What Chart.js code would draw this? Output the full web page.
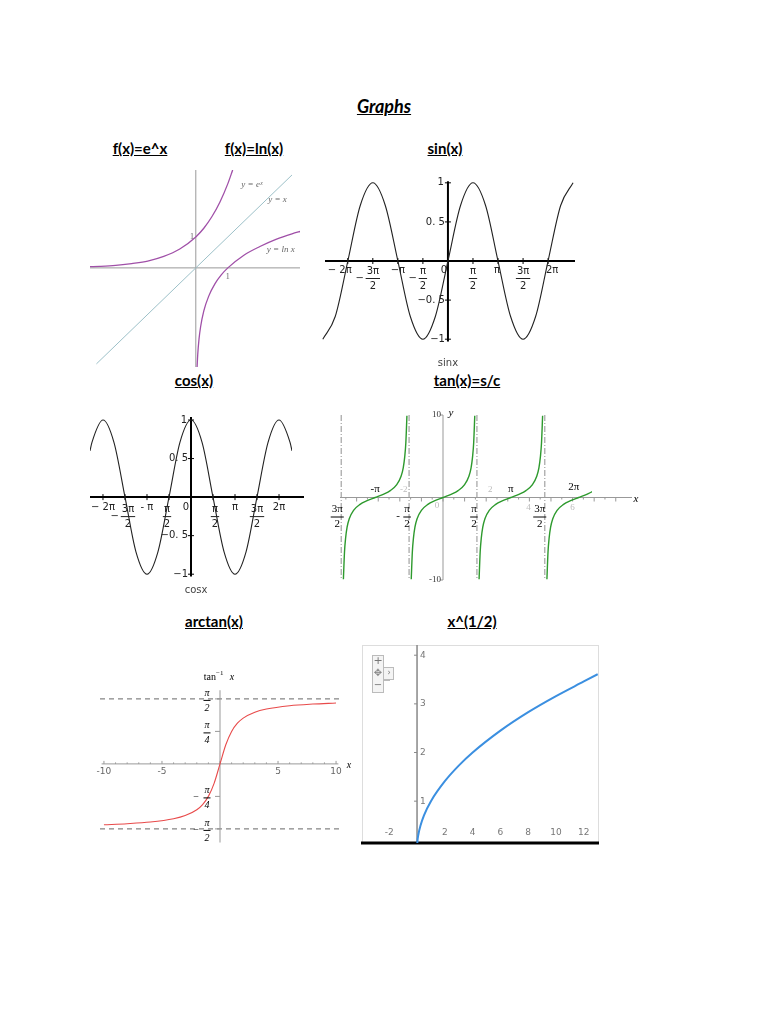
<!DOCTYPE html>
<html><head><meta charset="utf-8">
<script src="https://cdn.jsdelivr.net/npm/chart.js@4"></script>
<style>
body{margin:0;width:768px;height:1024px;background:#fff;position:relative;overflow:hidden;font-family:Lato,"Open Sans",sans-serif}
.h{position:absolute;font-weight:bold;font-size:15px;text-decoration:underline;transform:translate(-50%,-50%);white-space:nowrap;color:#000}
canvas{position:absolute}
</style></head><body>
<div class="h" style="left:384px;top:106px;font-size:18px;font-style:italic">Graphs</div>
<div class="h" style="left:140px;top:148px">f(x)=e^x</div>
<div class="h" style="left:254px;top:148px">f(x)=ln(x)</div>
<div class="h" style="left:445px;top:148px">sin(x)</div>
<div class="h" style="left:194px;top:380px">cos(x)</div>
<div class="h" style="left:467px;top:380px">tan(x)=s/c</div>
<div class="h" style="left:214px;top:621px">arctan(x)</div>
<div class="h" style="left:472px;top:621px">x^(1/2)</div>
<canvas id="c1"></canvas><canvas id="c2"></canvas><canvas id="c3"></canvas>
<canvas id="c4"></canvas><canvas id="c5"></canvas><canvas id="c6"></canvas>
<script>
// ---- data ----
const expX=[-3.3,-3,-2.5,-2,-1.5,-1,-0.5,0,0.25,0.5,0.75,1,1.15];
const expY=[0.04,0.05,0.08,0.14,0.22,0.37,0.61,1,1.28,1.65,2.12,2.72,3.16];
const lnX=[0.04,0.06,0.1,0.15,0.25,0.4,0.6,0.8,1,1.5,2,2.5,3,3.3];
const lnY=[-3.2,-2.8,-2.3,-1.9,-1.39,-0.92,-0.51,-0.22,0,0.41,0.69,0.92,1.1,1.19];
const idX=[-3.1,3.0];
const idY=[-3.1,3.0];
const sinX=[-7.85,-7.07,-6.28,-5.50,-4.71,-3.93,-3.14,-2.36,-1.57,-0.79,0,0.79,1.57,2.36,3.14,3.93,4.71,5.50,6.28,7.07,7.85];
const sinY=[-1,-0.71,0,0.71,1,0.71,0,-0.71,-1,-0.71,0,0.71,1,0.71,0,-0.71,-1,-0.71,0,0.71,1];
const cosX=[-7.21,-7.07,-6.28,-5.50,-4.71,-3.93,-3.14,-2.36,-1.57,-0.79,0,0.79,1.57,2.36,3.14,3.93,4.71,5.50,6.28,7.07,7.21];
const cosY=[0.60,0.71,1,0.71,0,-0.71,-1,-0.71,0,0.71,1,0.71,0,-0.71,-1,-0.71,0,0.71,1,0.71,0.60];
const tanCenters=[-3.1416,0,3.1416,6.2832];
const tanOffsets=[-1.471,-1.42,-1.37,-1.3,-1.2,-1.0,-0.7,-0.4,0,0.4,0.7,1.0,1.2,1.3,1.37,1.42,1.471];
const tanValues=[-9.9,-6.6,-4.96,-3.6,-2.57,-1.56,-0.84,-0.42,0,0.42,0.84,1.56,2.57,3.6,4.96,6.6,9.9];
const atanX=[-10,-8,-6,-4,-3,-2,-1.5,-1,-0.5,0,0.5,1,1.5,2,3,4,6,8,10];
const atanY=[-1.471,-1.446,-1.406,-1.326,-1.249,-1.107,-0.983,-0.785,-0.464,0,0.464,0.785,0.983,1.107,1.249,1.326,1.406,1.446,1.471];
const sqrtX=[0,0.02,0.1,0.25,0.5,1,2,3,4,6,8,10,12,13];
const sqrtY=[0,0.14,0.32,0.5,0.71,1,1.41,1.73,2,2.45,2.83,3.16,3.46,3.61];
const PI=Math.PI;

function pts(xs,ys){return xs.map((x,i)=>({x:x,y:ys[i]}));}
function line(data,color,w,extra){return Object.assign({data:data,borderColor:color,borderWidth:w||1,pointRadius:0,fill:false,cubicInterpolationMode:'monotone'},extra||{});}

function make(id,canvasR,plotR,xr,yr,datasets,draw,under){
  const c=document.getElementById(id);
  c.style.left=canvasR[0]+'px';c.style.top=canvasR[1]+'px';
  const W=canvasR[2]-canvasR[0],H=canvasR[3]-canvasR[1];
  c.width=W;c.height=H;c.style.width=W+'px';c.style.height=H+'px';
  new Chart(c,{type:'line',data:{datasets:datasets},
    options:{responsive:false,animation:false,devicePixelRatio:1,
      layout:{padding:{left:plotR[0]-canvasR[0],top:plotR[1]-canvasR[1],right:canvasR[2]-plotR[2],bottom:canvasR[3]-plotR[3]}},
      plugins:{legend:{display:false},tooltip:{enabled:false}},
      scales:{x:{type:'linear',display:false,min:xr[0],max:xr[1]},y:{type:'linear',display:false,min:yr[0],max:yr[1]}}},
    plugins:[{id:'deco',
      beforeDatasetsDraw(ch){if(under){const ctx=ch.ctx;ctx.save();under(ctx,v=>ch.scales.x.getPixelForValue(v),v=>ch.scales.y.getPixelForValue(v),ch);ctx.restore();}},
      afterDatasetsDraw(ch){if(draw){const ctx=ch.ctx;ctx.save();draw(ctx,v=>ch.scales.x.getPixelForValue(v),v=>ch.scales.y.getPixelForValue(v),ch);ctx.restore();}}}]
  });
}
function txt(ctx,s,x,y,font,color,align){ctx.font=font;ctx.fillStyle=color||'#000';ctx.textAlign=align||'center';ctx.textBaseline='middle';ctx.fillText(s,x,y);}
function frac(ctx,num,den,x,y,font,color,minus){
  ctx.font=font;const w=Math.max(ctx.measureText(num).width,ctx.measureText(den).width)+2;
  txt(ctx,num,x,y-7,font,color);txt(ctx,den,x,y+8,font,color);
  ctx.strokeStyle=color||'#000';ctx.lineWidth=1;ctx.beginPath();ctx.moveTo(x-w/2,y+0.5);ctx.lineTo(x+w/2,y+0.5);ctx.stroke();
  if(minus){txt(ctx,'−',x-w/2-6,y,font,color);}
}
function hline(ctx,x1,x2,y,c,w){ctx.strokeStyle=c;ctx.lineWidth=w;ctx.beginPath();ctx.moveTo(x1,y);ctx.lineTo(x2,y);ctx.stroke();}
function vline(ctx,x,y1,y2,c,w){ctx.strokeStyle=c;ctx.lineWidth=w;ctx.beginPath();ctx.moveTo(x,y1);ctx.lineTo(x,y2);ctx.stroke();}

// Panel 1: exp / ln
make('c1',[85,165,305,372],[90,170,300,367],[-3.3,3.25],[-3.2,3.16],
 [line(pts(idX,idY),'#9cc0c8',1,{cubicInterpolationMode:'default',tension:0}),
  line(pts(expX,expY),'#a050a8',1.3),line(pts(lnX,lnY),'#a050a8',1.3)],
 (ctx,X,Y)=>{
  const f='italic 9px "Liberation Serif"';
  txt(ctx,'y = eˣ',X(1.75),Y(2.7),f,'#666');
  txt(ctx,'y = x',X(2.55),Y(2.2),f,'#666');
  txt(ctx,'y = ln x',X(2.65),Y(0.58),f,'#666');
  txt(ctx,'1',X(-0.12),Y(1),'8px "Liberation Serif"','#666');
  txt(ctx,'1',X(1.0),Y(-0.3),'8px "Liberation Serif"','#666');
 },
 (ctx,X,Y)=>{hline(ctx,X(-3.3),X(3.25),Y(0),'#999',1);vline(ctx,X(0),Y(3.16),Y(-3.2),'#999',1);});

// Panel 2: sin
make('c2',[310,168,600,375],[322,175,575,365],[-7.9,7.97],[-1.33,1.1],
 [line(pts(sinX,sinY),'#222',1.1)],
 (ctx,X,Y)=>{
  const f='10px "DejaVu Sans"';
  txt(ctx,'1',X(0)-4,Y(1),f,'#222','right');
  txt(ctx,'0. 5',X(0)-3,Y(0.5),f,'#222','right');
  txt(ctx,'−0. 5',X(0)-3,Y(-0.5),f,'#222','right');
  txt(ctx,'−1',X(0)-3,Y(-1),f,'#222','right');
  const ly=Y(0)+9;
  txt(ctx,'− 2π',X(-2*PI)-8,ly,f,'#222');
  txt(ctx,'−π',X(-PI),ly,f,'#222');
  txt(ctx,'0',X(0)-4,ly,f,'#222');
  txt(ctx,'π',X(PI)-1,ly,f,'#222');
  txt(ctx,'2π',X(2*PI)+4,ly,f,'#222');
  frac(ctx,'3π','2',X(-1.5*PI),Y(0)+17,f,'#222',true);
  frac(ctx,'π','2',X(-0.5*PI),Y(0)+17,f,'#222',true);
  frac(ctx,'π','2',X(0.5*PI),Y(0)+17,f,'#222');
  frac(ctx,'3π','2',X(1.5*PI),Y(0)+17,f,'#222');
  txt(ctx,'sinx',X(0),Y(-1.33)-2,'10px "DejaVu Sans"','#444');
 },
 (ctx,X,Y)=>{hline(ctx,X(-7.9)+3,X(7.97),Y(0),'#000',2);vline(ctx,X(0),Y(1.02),Y(-1.03),'#000',2);
  for(const v of [-2,-1.5,-1,-0.5,0.5,1,1.5,2]){vline(ctx,X(v*PI),Y(0)-3,Y(0)+3,'#000',1);}
  for(const v of [-1,-0.5,0.5,1]){hline(ctx,X(0)-3,X(0)+3,Y(v),'#000',1);}});

// Panel 3: cos
make('c3',[80,405,320,600],[90,410,292,595],[-7.21,7.21],[-1.27,1.13],
 [line(pts(cosX,cosY),'#222',1.1)],
 (ctx,X,Y)=>{
  const f='10px "DejaVu Sans"';
  txt(ctx,'1',X(0)-4,Y(1),f,'#222','right');
  txt(ctx,'0. 5',X(0)-3,Y(0.5),f,'#222','right');
  txt(ctx,'−0. 5',X(0)-3,Y(-0.5),f,'#222','right');
  txt(ctx,'−1',X(0)-3,Y(-1),f,'#222','right');
  const ly=Y(0)+10;
  txt(ctx,'− 2π',X(-2*PI),ly,f,'#222');
  txt(ctx,'- π',X(-PI),ly,f,'#222');
  txt(ctx,'0',X(0)-5,ly,f,'#222');
  txt(ctx,'π',X(PI),ly,f,'#222');
  txt(ctx,'2π',X(2*PI),ly,f,'#222');
  frac(ctx,'3π','2',X(-1.5*PI)+3,Y(0)+19,f,'#222',true);
  frac(ctx,'π','2',X(-0.5*PI)-2,Y(0)+19,f,'#222');
  frac(ctx,'π','2',X(0.5*PI)+2,Y(0)+19,f,'#222');
  frac(ctx,'3π','2',X(1.5*PI),Y(0)+19,f,'#222');
  txt(ctx,'cosx',X(0)+5,Y(-1.27)-5,'10px "DejaVu Sans"','#444');
 },
 (ctx,X,Y)=>{hline(ctx,X(-7.21),X(7.21)+12,Y(0),'#000',2);vline(ctx,X(0),Y(1.04),Y(-1.03),'#000',2);
  for(const v of [-2,-1.5,-1,-0.5,0.5,1,1.5,2]){vline(ctx,X(v*PI),Y(0)-3,Y(0)+3,'#000',1);}
  for(const v of [-1,-0.5,0.5,1]){hline(ctx,X(0)-3,X(0)+3,Y(v),'#000',1);}});

// Panel 4: tan
const tanSets=tanCenters.map(c=>line(pts(tanOffsets.map(o=>c+o),tanValues),'#2e9a2e',1.4));
make('c4',[330,405,650,590],[340,415,592,580],[-4.77,6.9],[-10,10],tanSets,
 (ctx,X,Y)=>{
  const s='11px "Liberation Serif"',g='9px "Liberation Serif"';
  txt(ctx,'10',X(0)-2,Y(10),g,'#333','right');
  txt(ctx,'-10',X(0)-2,Y(-10),g,'#333','right');
  txt(ctx,'y',X(0)+8,Y(10)-2,'italic 11px "Liberation Serif"','#000');
  txt(ctx,'x',X(6.9)+44,Y(0)+2,'italic 11px "Liberation Serif"','#000');
  txt(ctx,'-π',X(-PI),Y(0)-8,s,'#000');
  txt(ctx,'π',X(PI),Y(0)-8,s,'#000');
  txt(ctx,'2π',X(2*PI)-5,Y(0)-10,s,'#000');
  txt(ctx,'-2',X(-2)+4,Y(0)-8,g,'#bbb');
  txt(ctx,'2',X(2)+4,Y(0)-8,g,'#bbb');
  txt(ctx,'0',X(0)-6,Y(0)+8,g,'#bbb');
  txt(ctx,'4',X(4)-1,Y(0)+10,g,'#bbb');
  txt(ctx,'6',X(6),Y(0)+10,g,'#bbb');
  frac(ctx,'3π','2',X(-1.5*PI)-4,Y(0)+19,s,'#000',false);txt(ctx,'-',X(-1.5*PI)-15,Y(0)+19,s,'#000');
  frac(ctx,'π','2',X(-0.5*PI)-2,Y(0)+19,s,'#000');txt(ctx,'-',X(-0.5*PI)-11,Y(0)+19,s,'#000');
  frac(ctx,'π','2',X(0.5*PI)-3,Y(0)+19,s,'#000');
  frac(ctx,'3π','2',X(1.5*PI)-5,Y(0)+19,s,'#000');
 },
 (ctx,X,Y)=>{
  ctx.setLineDash([6,2,1,2]);
  for(const v of [-1.5,-0.5,0.5,1.5]){vline(ctx,X(v*PI),Y(10),Y(-10),'#aaa',1.3);}
  ctx.setLineDash([]);
  hline(ctx,X(-4.77),X(6.9)+40,Y(0),'#999',1);vline(ctx,X(0),Y(10),Y(-10),'#999',1);
  hline(ctx,X(0)-3,X(0),Y(10),'#999',1);hline(ctx,X(0)-3,X(0),Y(-10),'#999',1);
  for(let v=-4.5;v<=8;v+=0.5){vline(ctx,X(v),Y(0),Y(0)+(Math.abs(v%1)<0.01?4:2),'#999',1);}
 });

// Panel 5: arctan
make('c5',[90,660,360,850],[100,665,340,845],[-10.34,10.34],[-1.96,2.39],
 [line(pts(atanX,atanY),'#e84a4a',1.1)],
 (ctx,X,Y)=>{
  const f='italic 10px "Liberation Serif"',n='10px "Liberation Serif"',m='9px "DejaVu Sans"';
  txt(ctx,'tan',X(0)-4,Y(2.39)+12,n,'#000','right');
  txt(ctx,'−1',X(0)-4,Y(2.39)+8,'7px "Liberation Serif"','#000','left');
  txt(ctx,'x',X(0)+12,Y(2.39)+12,f,'#000');
  frac(ctx,'π','2',X(0)-13,Y(PI/2)+1,f,'#000');
  frac(ctx,'π','4',X(0)-13,Y(PI/4)+1,f,'#000');
  frac(ctx,'π','4',X(0)-13,Y(-PI/4)+1,f,'#000');txt(ctx,'−',X(0)-24,Y(-PI/4)+1,n,'#000');
  frac(ctx,'π','2',X(0)-13,Y(-PI/2)+1,f,'#000');txt(ctx,'−',X(0)-24,Y(-PI/2)+1,n,'#000');
  for(const v of [-10,-5,5,10]){txt(ctx,(v<0?'-':'')+Math.abs(v),X(v),Y(0)+8,m,'#666');}
  txt(ctx,'x',X(10.34)+9,Y(0)+1,f,'#000');
 },
 (ctx,X,Y)=>{
  ctx.setLineDash([5,4]);
  hline(ctx,X(-10.34),X(10.34),Y(PI/2),'#666',1);hline(ctx,X(-10.34),X(10.34),Y(-PI/2),'#666',1);
  ctx.setLineDash([]);
  hline(ctx,X(-10.2),X(10.2),Y(0),'#999',1);vline(ctx,X(0),Y(1.78),Y(-1.9),'#999',1);
  for(let v=-10;v<=10;v++){vline(ctx,X(v),Y(0)-(v%5===0?3:1.5),Y(0),'#999',1);}
  for(const v of [PI/2,PI/4,-PI/4,-PI/2]){hline(ctx,X(0)-5,X(0),Y(v),'#999',1);}
 });

// Panel 6: sqrt
make('c6',[355,640,605,850],[362,645,598,843],[-3.96,13.02],[0.14,4.21],
 [line(pts(sqrtX,sqrtY),'#3b8fe0',2)],
 (ctx,X,Y)=>{
  const f='9px "DejaVu Sans"';
  for(const v of [1,2,3,4]){txt(ctx,String(v),X(0)+3,Y(v),f,'#777','left');hline(ctx,X(0)-3,X(0),Y(v),'#888',1);}
  for(const v of [-2,2,4,6,8,10,12]){txt(ctx,String(v),X(v),193,f,'#777');}
  // zoom widget
  ctx.strokeStyle='#bbb';ctx.lineWidth=1;ctx.fillStyle='#f4f4f4';
  ctx.fillRect(372-355,670-640,17,10);ctx.strokeRect(372.5-355,670.5-640,17,10);
  ctx.fillRect(372-355,655-640,11,37);ctx.strokeRect(372.5-355,655.5-640,11,37);
  ctx.fillRect(383-355,667-640,10,12);ctx.strokeRect(383.5-355,667.5-640,10,12);
  txt(ctx,'+',378-355,661-640,'11px "DejaVu Sans"','#777');
  txt(ctx,'✥',378-355,673-640,'10px "DejaVu Sans"','#888');
  txt(ctx,'−',378-355,685-640,'10px "DejaVu Sans"','#777');
  txt(ctx,'›',389-355,673-640,'8px "DejaVu Sans"','#777');
 },
 (ctx,X,Y)=>{
  ctx.strokeStyle='#ddd';ctx.lineWidth=1;ctx.strokeRect(7.5,5.5,236,198);
  vline(ctx,X(0),5,203,'#888',1.5);
  hline(ctx,6,244,203,'#000',3);
 });
</script></body></html>
